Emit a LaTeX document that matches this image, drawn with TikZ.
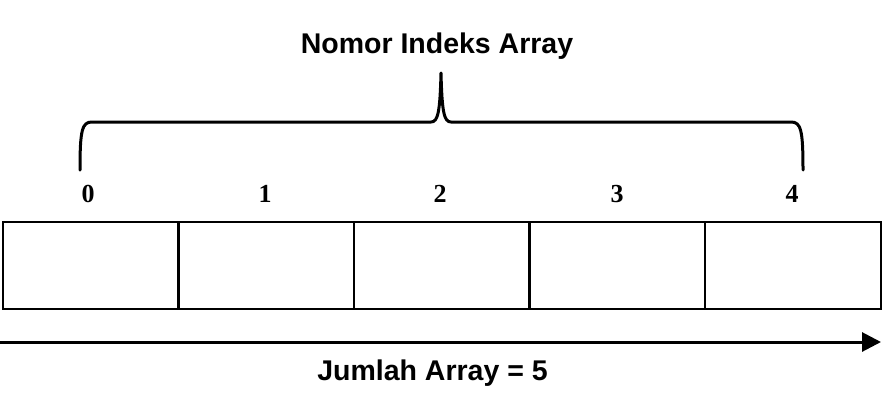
\documentclass[tikz,border=0pt]{standalone}
\usepackage{fontspec}
\newfontfamily\labsans{Liberation Sans}
\newfontfamily\labserif{Liberation Serif}
\usetikzlibrary{arrows.meta}
\begin{document}
\begin{tikzpicture}[x=1pt,y=-1pt,
  cell/.style={draw,line width=2.5pt,minimum width=175.6pt,minimum height=87pt,inner sep=0pt,outer sep=0pt},
  idx/.style={font=\labserif\bfseries\fontsize{26}{30}\selectfont,anchor=base,inner sep=0pt},
  ttl/.style={font=\labsans\bfseries\fontsize{28.5}{32}\selectfont,anchor=base,inner sep=0pt},
  bracepath/.style={line width=3pt,line cap=round,line join=round}]
\useasboundingbox (0,0) rectangle (895,405);
% title
\node[ttl] (title) at (437,53) {Nomor Indeks Array};
% brace
\draw[bracepath] (80,170) .. controls (80,130) and (82,122) .. (92,122) -- (431,122) .. controls (438,122) and (440,112) .. (441,73) .. controls (442,112) and (444,122) .. (451,122) -- (791,122) .. controls (801,122) and (803,130) .. (803,170);
% indices
\node[idx] (i0) at (88,202) {0};
\node[idx] (i1) at (265,202) {1};
\node[idx] (i2) at (440,202) {2};
\node[idx] (i3) at (617,202) {3};
\node[idx] (i4) at (792,202) {4};
% cells
\node[cell] (c0) at (90.6,265.5) {};
\node[cell] (c1) at (266.2,265.5) {};
\node[cell] (c2) at (441.8,265.5) {};
\node[cell] (c3) at (617.4,265.5) {};
\node[cell] (c4) at (793.0,265.5) {};
% arrow
\coordinate (as) at (0,342);
\coordinate (ae) at (881,342);
\draw[line width=3pt,-{Triangle[length=19pt,width=19pt]}] (as) -- (ae);
\node[ttl] (len) at (432.5,380) {Jumlah Array = 5};
\end{tikzpicture}
\end{document}
